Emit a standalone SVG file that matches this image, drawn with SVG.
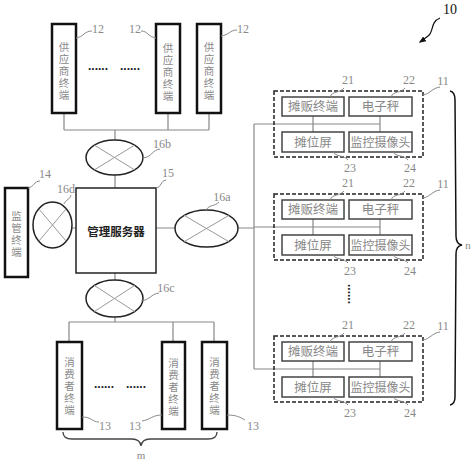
<svg xmlns="http://www.w3.org/2000/svg" width="474" height="463" viewBox="0 0 474 463">
<defs>
<style>
.tb{fill:#fff;stroke:#111;stroke-width:2.5}
.srv{fill:#fff;stroke:#222;stroke-width:1.5}
.mb{fill:#fff;stroke:#444;stroke-width:1.5}
.dash{fill:none;stroke:#222;stroke-width:1.5;stroke-dasharray:4 2}
.el{fill:#fff;stroke:#222;stroke-width:1.5}
.x{stroke:#999;stroke-width:1}
.cn{stroke:#888;stroke-width:1.2;fill:none}
.ld{stroke:#888;stroke-width:1;fill:none}
.ct{font-family:"Noto Sans CJK SC",sans-serif;font-size:10.5px;fill:#888;text-anchor:middle;writing-mode:vertical-rl;letter-spacing:1.5px}
.mt{font-family:"Noto Sans CJK SC",sans-serif;font-size:12.5px;fill:#888;text-anchor:middle}
.st{font-family:"Noto Sans CJK SC",sans-serif;font-size:11.5px;fill:#222;text-anchor:middle;font-weight:bold}
.num{font-family:"Liberation Serif",serif;font-size:12px;fill:#888;text-anchor:middle}
.dots{font-family:"Liberation Sans",sans-serif;font-size:12px;fill:#222;font-weight:bold;text-anchor:middle}
</style>
<marker id="ah" viewBox="0 0 10 10" refX="8" refY="5" markerWidth="6" markerHeight="6" orient="auto-start-reverse">
<path d="M0,1 L10,5 L0,9 z" fill="#111"/>
</marker>
</defs>
<rect width="474" height="463" fill="#fff"/>

<g id="connectors">
<path class="cn" d="M64,113 V130 M168,113 V130 M209,113 V130 M64,130 H209 M115,130 V140"/>
<path class="cn" d="M115,175 V188 M115,273 V280 M115,317 V322"/>
<path class="cn" d="M69,322 H214 M69,322 V342 M173,322 V342 M214,322 V342"/>
<path class="cn" d="M72,228 H76 M156,228 H175 M238,228 H254"/>
<path class="cn" d="M254,124 V369"/>
<path class="cn" d="M254,124 H380 M313,116 V132 M380,116 V132"/>
<path class="cn" d="M254,227 H380 M313,219 V235 M380,219 V235"/>
<path class="cn" d="M254,369 H380 M313,361 V377 M380,361 V377"/>
</g>

<g id="supplier1">
<rect class="tb" x="52" y="24" width="24" height="89"/>
<text class="ct" x="64" y="71.5">供应商终端</text>
<path class="ld" d="M76,38 C84,37 84,31 92,31"/>
<text class="num" x="98" y="33">12</text>
</g>
<g id="supplier2">
<rect class="tb" x="156" y="24" width="24" height="89"/>
<text class="ct" x="168" y="72.5">供应商终端</text>
<path class="ld" d="M156,38 C148,37 148,31 141,31"/>
<text class="num" x="135" y="33">12</text>
</g>
<g id="supplier3">
<rect class="tb" x="197" y="24" width="24" height="89"/>
<text class="ct" x="209" y="71.5">供应商终端</text>
<path class="ld" d="M221,36 C229,35 230,30 237,30"/>
<text class="num" x="243" y="33">12</text>
</g>
<text class="dots" x="98" y="70">......</text>
<text class="dots" x="130" y="70">......</text>

<g id="net16b">
<ellipse class="el" cx="114.5" cy="157.5" rx="28.5" ry="17.5"/>
<path class="x" d="M94.3,145.1 L134.7,169.9 M134.7,145.1 L94.3,169.9"/>
<path class="ld" d="M143,158 C152,157 152,150 160,149"/>
<text class="num" x="162" y="148">16b</text>
</g>

<g id="server15">
<rect class="srv" x="76" y="188" width="80" height="85"/>
<text class="st" x="116" y="236">管理服务器</text>
<path class="ld" d="M156,188 C162,187 160,181 166,180"/>
<text class="num" x="168" y="177">15</text>
</g>

<g id="supervisor14">
<rect class="tb" x="5" y="188" width="23" height="89"/>
<text class="ct" x="16.5" y="234.5">监管终端</text>
<path class="ld" d="M28,188 C34,187 34,181 40,181"/>
<text class="num" x="45" y="178">14</text>
</g>

<g id="net16d">
<ellipse class="el" cx="52.5" cy="225" rx="19.5" ry="23"/>
<path class="x" d="M38.7,208.7 L66.3,241.3 M66.3,208.7 L38.7,241.3"/>
<path class="ld" d="M64,204 C66,199 70,200 71,195"/>
<text class="num" x="66" y="193">16d</text>
</g>

<g id="net16a">
<ellipse class="el" cx="206.5" cy="228.5" rx="31.5" ry="18.5"/>
<path class="x" d="M184.2,215.4 L228.8,241.6 M228.8,215.4 L184.2,241.6"/>
<path class="ld" d="M206,210 C210,204 214,207 219,202"/>
<text class="num" x="222" y="201">16a</text>
</g>

<g id="net16c">
<ellipse class="el" cx="114.5" cy="298.5" rx="28.5" ry="18.5"/>
<path class="x" d="M94.3,285.4 L134.7,311.6 M134.7,285.4 L94.3,311.6"/>
<path class="ld" d="M141,301 C150,300 151,294 159,293"/>
<text class="num" x="166" y="292">16c</text>
</g>

<g id="consumer1">
<rect class="tb" x="57" y="342" width="25" height="87"/>
<text class="ct" x="69.5" y="386.5">消费者终端</text>
<path class="ld" d="M82,417 C92,417 92,422 99,422"/>
<text class="num" x="105" y="430">13</text>
</g>
<g id="consumer2">
<rect class="tb" x="162" y="342" width="23" height="87"/>
<text class="ct" x="173.5" y="387.5">消费者终端</text>
<path class="ld" d="M162,415 C152,415 150,420 142,421"/>
<text class="num" x="135" y="430">13</text>
</g>
<g id="consumer3">
<rect class="tb" x="202" y="342" width="25" height="87"/>
<text class="ct" x="214.5" y="386.5">消费者终端</text>
<path class="ld" d="M227,415 C236,415 240,417 245,420"/>
<text class="num" x="253" y="430">13</text>
</g>
<text class="dots" x="104" y="388">......</text>
<text class="dots" x="136" y="388">......</text>
<path d="M63,432 Q63,439 72,439 L132,439 Q140,439 141,446 Q142,439 150,439 L208,439 Q217,439 217,432" fill="none" stroke="#444" stroke-width="1.3"/>
<text class="num" x="141" y="459" style="font-size:11px">m</text>

<g id="module1">
<rect class="dash" x="274" y="91" width="149" height="66"/>
<rect class="mb" x="282" y="97" width="62" height="19"/>
<text class="mt" x="313" y="111">摊贩终端</text>
<rect class="mb" x="349" y="97" width="63" height="19"/>
<text class="mt" x="380.5" y="111">电子秤</text>
<rect class="mb" x="282" y="132" width="62" height="20"/>
<text class="mt" x="313" y="146.5">摊位屏</text>
<rect class="mb" x="349" y="132" width="63" height="20"/>
<text class="mt" x="380.5" y="146.5" style="font-size:12px">监控摄像头</text>
<path class="ld" d="M330,97 C332,91 340,93 344,88 M391,97 C393,91 401,93 405,88 M423,95 C430,94 432,88 440,87 M333,152 C336,157 344,155 348,160 M393,152 C396,157 404,155 408,160"/>
<text class="num" x="348" y="84">21</text><text class="num" x="409" y="84">22</text><text class="num" x="443" y="85">11</text>
<text class="num" x="350" y="172">23</text><text class="num" x="410" y="172">24</text>
</g>
<g id="module2" transform="translate(0,103)">
<rect class="dash" x="274" y="91" width="149" height="66"/>
<rect class="mb" x="282" y="97" width="62" height="19"/>
<text class="mt" x="313" y="111">摊贩终端</text>
<rect class="mb" x="349" y="97" width="63" height="19"/>
<text class="mt" x="380.5" y="111">电子秤</text>
<rect class="mb" x="282" y="132" width="62" height="20"/>
<text class="mt" x="313" y="146.5">摊位屏</text>
<rect class="mb" x="349" y="132" width="63" height="20"/>
<text class="mt" x="380.5" y="146.5" style="font-size:12px">监控摄像头</text>
<path class="ld" d="M330,97 C332,91 340,93 344,88 M391,97 C393,91 401,93 405,88 M423,95 C430,94 432,88 440,87 M333,152 C336,157 344,155 348,160 M393,152 C396,157 404,155 408,160"/>
<text class="num" x="348" y="84">21</text><text class="num" x="409" y="84">22</text><text class="num" x="443" y="85">11</text>
<text class="num" x="350" y="172">23</text><text class="num" x="410" y="172">24</text>
</g>
<g id="module3" transform="translate(0,245)">
<rect class="dash" x="274" y="91" width="149" height="66"/>
<rect class="mb" x="282" y="97" width="62" height="19"/>
<text class="mt" x="313" y="111">摊贩终端</text>
<rect class="mb" x="349" y="97" width="63" height="19"/>
<text class="mt" x="380.5" y="111">电子秤</text>
<rect class="mb" x="282" y="132" width="62" height="20"/>
<text class="mt" x="313" y="146.5">摊位屏</text>
<rect class="mb" x="349" y="132" width="63" height="20"/>
<text class="mt" x="380.5" y="146.5" style="font-size:12px">监控摄像头</text>
<path class="ld" d="M330,97 C332,91 340,93 344,88 M391,97 C393,91 401,93 405,88 M423,95 C430,94 432,88 440,87 M333,152 C336,157 344,155 348,160 M393,152 C396,157 404,155 408,160"/>
<text class="num" x="348" y="84">21</text><text class="num" x="409" y="84">22</text><text class="num" x="443" y="85">11</text>
<text class="num" x="350" y="172">23</text><text class="num" x="410" y="172">24</text>
</g>
<text class="dots" transform="translate(348,294) rotate(90)" x="0" y="0">......</text>

<path d="M450,91 Q455,92 455,100 L456,236 Q456,244 462,245 Q456,246 456,254 L455,397 Q455,404 450,405" fill="none" stroke="#111" stroke-width="1.5"/>
<text class="num" x="468" y="249" style="font-size:11px">n</text>

<text x="450" y="14" style="font-family:'Liberation Serif',serif;font-size:14px;fill:#111;text-anchor:middle">10</text>
<path d="M440,18 C430,22 434,32 428,36 C424,39 423,40 420,42" fill="none" stroke="#111" stroke-width="1.2" marker-end="url(#ah)"/>
</svg>
